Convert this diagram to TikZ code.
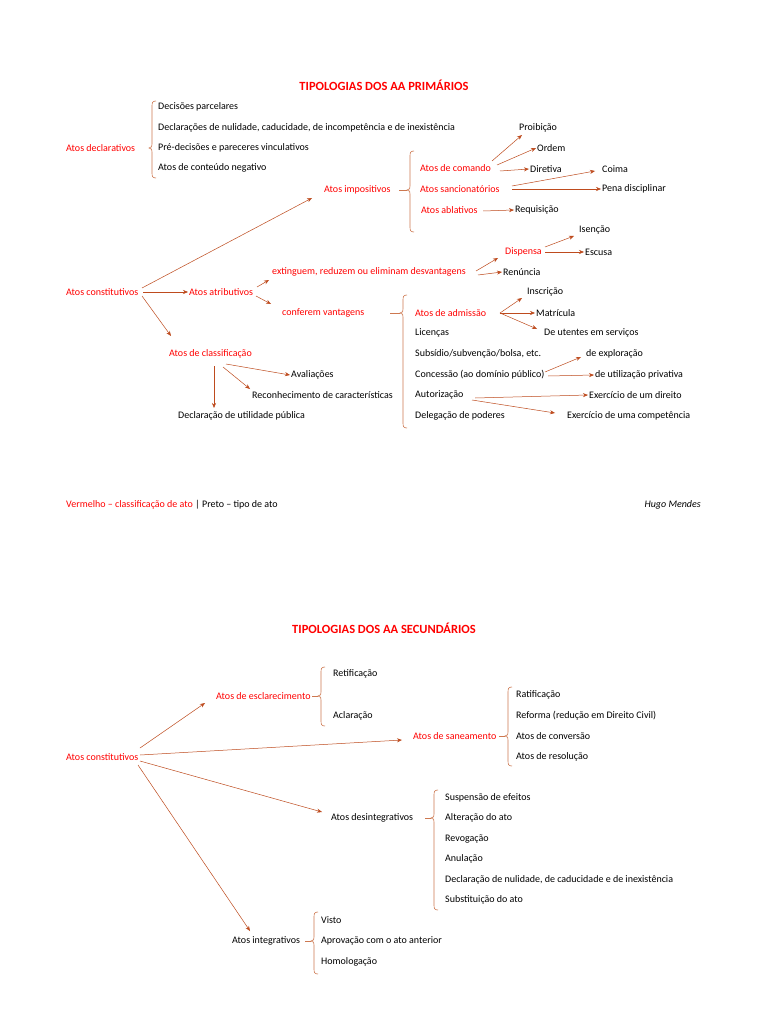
\documentclass[tikz,border=0pt]{standalone}
\usepackage{fontspec}
\setmainfont{Carlito}
\usetikzlibrary{arrows.meta}
\definecolor{arr}{RGB}{190,75,30}
\definecolor{brc}{RGB}{205,120,80}
\definecolor{rd}{RGB}{255,0,0}
\tikzset{
 t/.style={anchor=west,inner sep=1pt,font=\fontsize{10}{12}\selectfont,text=black},
 r/.style={t,text=rd},
 ttl/.style={inner sep=1pt,font=\fontsize{12.5}{14}\selectfont\bfseries,text=rd},
 ar/.style={draw=arr,line width=0.5pt,-{Stealth[length=5pt,width=4pt]}},
 br/.style={draw=brc,line width=0.6pt}
}
% \cbr{x}{top}{tip}{bottom}{ticklen}
\newcommand{\cbr}[5]{%
 \draw[br] (#1+6,#2) .. controls (#1+2,#2) and (#1+2,#2+2) .. (#1+2,#2+6) -- (#1+2,#3-4) .. controls (#1+2,#3-1) .. (#1-1,#3) .. controls (#1+2,#3+1) .. (#1+2,#3+4) -- (#1+2,#4-6) .. controls (#1+2,#4-2) and (#1+2,#4) .. (#1+6,#4);
 \draw[br] (#1-1-#5,#3) -- (#1-1,#3);}
\begin{document}
\begin{tikzpicture}[x=1pt,y=-1pt]
\useasboundingbox (0,0) rectangle (768,1024);
\fill[white] (0,0) rectangle (768,1024);
\node[ttl] (t1) at (384,85) {TIPOLOGIAS DOS AA PRIMÁRIOS};
% declarativos
\node[r] (decl) at (65,148) {Atos declarativos};
\cbr{150}{101}{148}{178}{0}
\node[t] (d1) at (157,107) {Decisões parcelares};
\node[t] (d2) at (157,128) {Declarações de nulidade, caducidade, de incompetência e de inexistência};
\node[t] (d3) at (157,148) {Pré-decisões e pareceres vinculativos};
\node[t] (d4) at (157,168) {Atos de conteúdo negativo};
% constitutivos
\node[r] (cons) at (65,292) {Atos constitutivos};
\node[r] (imp) at (323,190) {Atos impositivos};
\draw[ar] (142,288) -- (312,198);
\cbr{408}{151}{190}{232}{8}
\node[r] (cmd) at (419,168) {Atos de comando};
\node[r] (sanc) at (419,189) {Atos sancionatórios};
\node[r] (abl) at (420,210) {Atos ablativos};
\node[t] (proib) at (518,128) {Proibição};
\node[t] (ordem) at (536,148) {Ordem};
\node[t] (dir) at (529,169) {Diretiva};
\node[t] (coima) at (601,169) {Coima};
\node[t] (pena) at (601,189) {Pena disciplinar};
\node[t] (req) at (514,210) {Requisição};
\draw[ar] (492,161) -- (522,135);
\draw[ar] (497,165) -- (ordem.west);
\draw[ar] (500,171) -- (dir.west);
\draw[ar] (512,186) -- (595,171);
\draw[ar] (512,189) -- (pena.west);
\draw[ar] (483,211) -- (req.west);
% atributivos
\node[r] (atr) at (188,292) {Atos atributivos};
\draw[ar] (143,292) -- (atr.west);
\node[r] (ext) at (271,272) {extinguem, reduzem ou eliminam desvantagens};
\node[r] (conf) at (281,313) {conferem vantagens};
\draw[ar] (257,287) -- (269,280);
\draw[ar] (256,296) -- (271,304);
\node[r] (disp) at (504,252) {Dispensa};
\node[t] (ren) at (502,272) {Renúncia};
\draw[ar] (476,271) -- (498,258);
\draw[ar] (478,275) -- (ren.west);
\node[t] (ise) at (578,230) {Isenção};
\node[t] (esc) at (584,252) {Escusa};
\draw[ar] (545,247) -- (574,236);
\draw[ar] (545,252) -- (esc.west);
\cbr{401}{295}{313}{428}{10}
\node[r] (adm) at (414,313) {Atos de admissão};
\node[t] (lic) at (414,333) {Licenças};
\node[t] (sub) at (414,354) {Subsídio/subvenção/bolsa, etc.};
\node[t] (conc) at (414,375) {Concessão (ao domínio público)};
\node[t] (aut) at (414,395) {Autorização};
\node[t] (del) at (414,416) {Delegação de poderes};
\node[t] (insc) at (526,292) {Inscrição};
\node[t] (matr) at (535,313) {Matrícula};
\node[t] (ute) at (543,333) {De utentes em serviços};
\draw[ar] (500,313) -- (522,298);
\draw[ar] (500,313) -- (matr.west);
\draw[ar] (500,313) -- (537,329);
\node[t] (expl) at (585,354) {de exploração};
\node[t] (util) at (594,375) {de utilização privativa};
\draw[ar] (545,372) -- (581,357);
\draw[ar] (548,376) -- (util.west);
\node[t] (edir) at (588,395) {Exercício de um direito};
\node[t] (ecomp) at (566,416) {Exercício de uma competência};
\draw[ar] (475,398) -- (edir.west);
\draw[ar] (472,400) -- (555,413);
% classificacao
\node[r] (cls) at (168,354) {Atos de classificação};
\draw[ar] (142,296) -- (171,336);
\node[t] (aval) at (290,375) {Avaliações};
\node[t] (rec) at (251,395) {Reconhecimento de características};
\node[t] (dup) at (177,416) {Declaração de utilidade pública};
\draw[ar] (226,364) -- (aval.west);
\draw[ar] (223,367) -- (250,389);
\draw[ar] (214,366) -- (214,408);
% footer
\node[t,text=rd] (leg) at (65,505) {Vermelho – classificação de ato \textcolor{black}{| Preto – tipo de ato}};
\node[t,anchor=east,font=\fontsize{10}{12}\selectfont\itshape] (hm) at (702,505) {Hugo Mendes};
% secundarios
\node[ttl] (t2) at (384,628) {TIPOLOGIAS DOS AA SECUNDÁRIOS};
\node[r] (cons2) at (65,757) {Atos constitutivos};
\node[r] (escl) at (215,696) {Atos de esclarecimento};
\draw[ar] (140,748) -- (205,703);
\cbr{319}{667}{696}{726}{6}
\node[t] (retif) at (332,674) {Retificação};
\node[t] (acl) at (332,716) {Aclaração};
\node[r] (san) at (412,736) {Atos de saneamento};
\draw[ar] (140,755) -- (402,740);
\cbr{506}{687}{736}{766}{6}
\node[t] at (515,695) {Ratificação};
\node[t] at (515,716) {Reforma (redução em Direito Civil)};
\node[t] at (515,736) {Atos de conversão};
\node[t] at (515,757) {Atos de resolução};
\node[t] (des) at (330,818) {Atos desintegrativos};
\draw[ar] (140,761) -- (322,812);
\cbr{432}{790}{818}{910}{6}
\node[t] at (444,798) {Suspensão de efeitos};
\node[t] at (444,818) {Alteração do ato};
\node[t] at (444,839) {Revogação};
\node[t] at (444,859) {Anulação};
\node[t] at (444,880) {Declaração de nulidade, de caducidade e de inexistência};
\node[t] at (444,900) {Substituição do ato};
\node[t] (integ) at (231,941) {Atos integrativos};
\draw[ar] (138,765) -- (250,931);
\cbr{312}{912}{941}{974}{6}
\node[t] at (320,920) {Visto};
\node[t] at (320,941) {Aprovação com o ato anterior};
\node[t] at (320,962) {Homologação};
\end{tikzpicture}
\end{document}
